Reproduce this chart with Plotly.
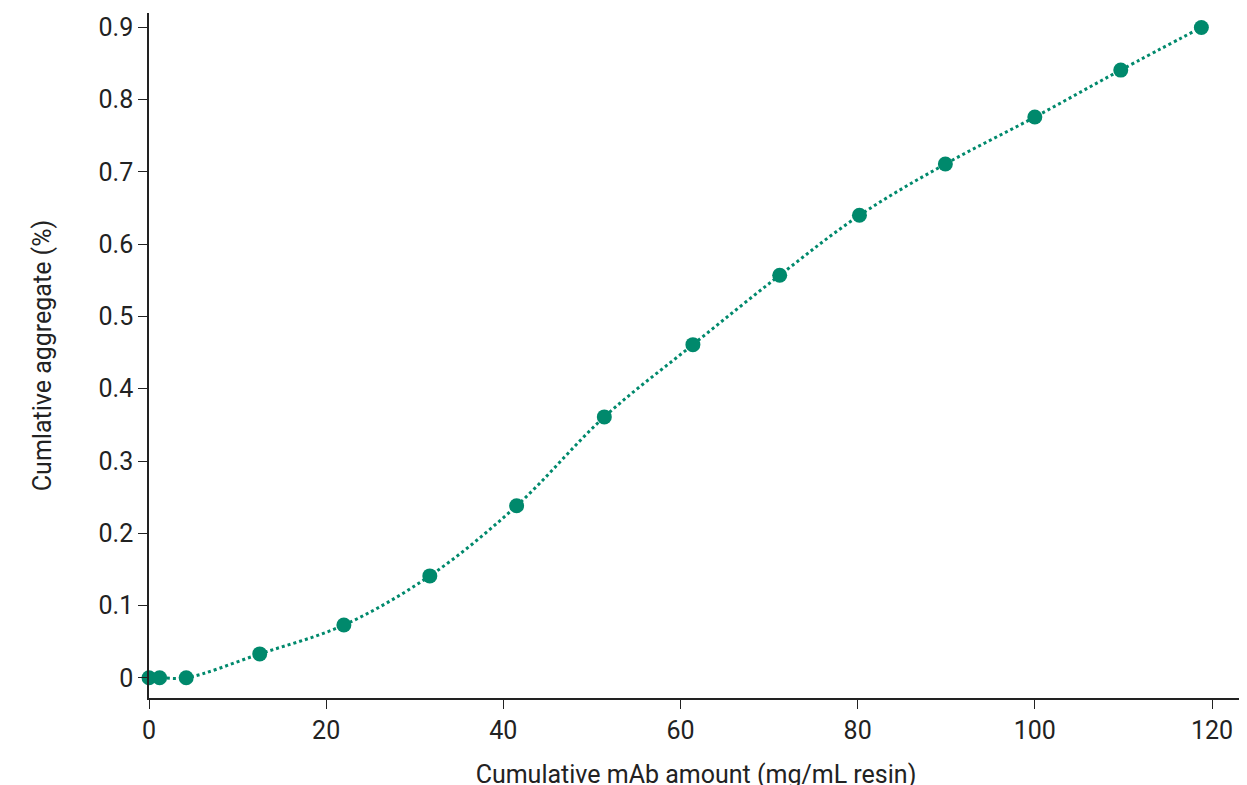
import plotly.graph_objects as go

mab_amount = [0, 1.2, 4.2, 12.5, 22, 31.7, 41.5, 51.4, 61.4, 71.2, 80.2, 89.9, 100, 109.7, 118.8]
aggregate = [0, 0, 0, 0.033, 0.073, 0.141, 0.238, 0.361, 0.461, 0.557, 0.640, 0.711, 0.776, 0.841, 0.900]

green = "#00896c"

fig = go.Figure()
fig.add_trace(go.Scatter(
    x=mab_amount, y=aggregate, mode="lines",
    line=dict(color=green, width=3, dash="dot", shape="spline"),
    showlegend=False,
))
fig.add_trace(go.Scatter(
    x=mab_amount, y=aggregate, mode="markers",
    marker=dict(color=green, size=15),
    showlegend=False, cliponaxis=False,
))

axis_common = dict(
    showgrid=False, zeroline=False, showline=True, linecolor="#222", linewidth=1.5,
    ticks="outside", ticklen=9, tickcolor="#222",
    tickfont=dict(size=25, color="#222"), automargin=False,
)
fig.update_xaxes(
    range=[0, 123.5], tickvals=[0, 20, 40, 60, 80, 100, 120],
    title=dict(text="Cumulative mAb amount (mg/mL resin)", font=dict(size=25, color="#222"), standoff=22),
    **axis_common,
)
fig.update_yaxes(
    range=[-0.028, 0.92], tickvals=[0, 0.1, 0.2, 0.3, 0.4, 0.5, 0.6, 0.7, 0.8, 0.9],
    tickformat="~g",
    title=dict(text="Cumlative aggregate (%)", font=dict(size=25, color="#222"), standoff=40),
    **axis_common,
)
fig.update_layout(
    width=1247, height=785,
    margin=dict(l=141, r=12, t=5, b=95),
    plot_bgcolor="white", paper_bgcolor="white",
    font=dict(family="Roboto"),
)
fig.write_html("out.html")
